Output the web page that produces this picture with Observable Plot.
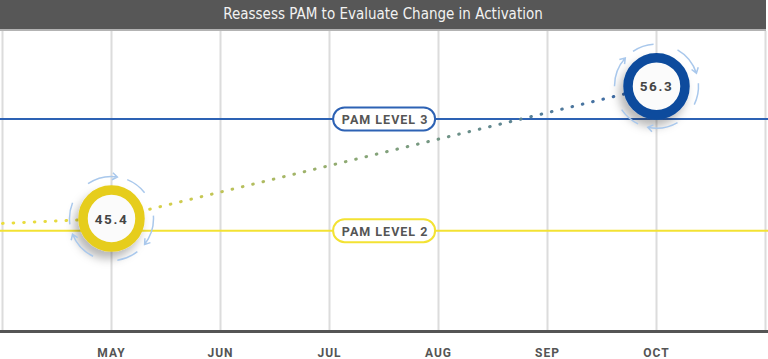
<!DOCTYPE html>
<html>
<head>
<meta charset="utf-8">
<script src="https://cdn.jsdelivr.net/npm/d3@7"></script>
<script src="https://cdn.jsdelivr.net/npm/@observablehq/plot@0.6"></script>
<style>
  body { margin: 0; background: #fff; }
  #wrap { width: 768px; height: 359px; overflow: hidden; position: relative; }
  #title {
    width: 766px; height: 29px; line-height: 29px; background: #575757;
    border-bottom: 2px solid #b3b3b3;
    color: #f2f2f2; text-align: center;
    font-family: "Liberation Sans Narrow", "DejaVu Sans Condensed", "Noto Sans", sans-serif;
    font-size: 15px; font-weight: 400;
  }
</style>
</head>
<body>
<div id="wrap">
  <div id="title">Reassess PAM to Evaluate Change in Activation</div>
  <div id="chart"></div>
</div>
<script>
// ---- data ----
const months = ["APR", "MAY", "JUN", "JUL", "AUG", "SEP", "OCT", "NOV"];
const tickMonths = ["MAY", "JUN", "JUL", "AUG", "SEP", "OCT"];
const scoreMonths = ["APR", "MAY", "OCT"];
const scores = [45.0, 45.4, 56.3];
const markerMonths = ["MAY", "OCT"];
const markerScores = [45.4, 56.3];
const markerLabels = ["45.4", "56.3"];
const levelNames = ["PAM LEVEL 2", "PAM LEVEL 3"];
const levelValues = [44.4, 53.6];
const levelLabelMonth = "JUL";
const yDomain = [36.1, 60.8];

// ---- styles ----
const yellow = "#f3e233";
const yellowRing = "#e6cd1b";
const blue = "#2d62b4";
const blueRing = "#0b4b9d";
const levelColors = [yellow, blue];
const ringColors = [yellowRing, blueRing];

const scoreData = scoreMonths.map((m, i) => ({month: m, value: scores[i]}));
const markerData = markerMonths.map((m, i) => ({month: m, value: markerScores[i], label: markerLabels[i], color: ringColors[i]}));
const levelData = levelNames.map((n, i) => ({name: n, value: levelValues[i], month: levelLabelMonth, color: levelColors[i]}));

const xRange = [1.5, 766];
const halfStep = (xRange[1] - xRange[0]) / (months.length - 1) / 2;

// custom symbols
const pill = {
  draw(ctx) {
    const w = 102, h = 23, r = h / 2;
    ctx.moveTo(-w / 2 + r, -h / 2);
    ctx.lineTo(w / 2 - r, -h / 2);
    ctx.arc(w / 2 - r, 0, r, -Math.PI / 2, Math.PI / 2);
    ctx.lineTo(-w / 2 + r, h / 2);
    ctx.arc(-w / 2 + r, 0, r, Math.PI / 2, 3 * Math.PI / 2);
    ctx.closePath();
  }
};
function arcsSymbol(rot) {
  return {
    draw(ctx) {
      const R = 42, rad = Math.PI / 180;
      const segs = [[236, 278, true], [292, 322, false]];
      for (let k = 0; k < 3; k++) {
        for (const [s, e, arrow] of segs) {
          const a0 = (s + k * 120 + rot) * rad, a1 = (e + k * 120 + rot) * rad;
          ctx.moveTo(R * Math.cos(a0), R * Math.sin(a0));
          ctx.arc(0, 0, R, a0, a1);
          if (arrow) {
            const px = R * Math.cos(a1), py = R * Math.sin(a1);
            const tx = -Math.sin(a1), ty = Math.cos(a1);
            const nx = Math.cos(a1), ny = Math.sin(a1);
            ctx.moveTo(px - 5 * tx + 3.5 * nx, py - 5 * ty + 3.5 * ny);
            ctx.lineTo(px, py);
            ctx.lineTo(px - 5 * tx - 3.5 * nx, py - 5 * ty - 3.5 * ny);
          }
        }
      }
    }
  };
}

const chart = Plot.plot({
  width: 768,
  height: 328,
  marginTop: 0,
  marginBottom: 28,
  marginLeft: 0,
  marginRight: 0,
  style: {fontFamily: "Roboto, 'DejaVu Sans', sans-serif", background: "transparent", overflow: "visible"},
  x: {
    type: "point", domain: months, range: xRange, padding: 0,
    label: null, tickSize: 0, tickPadding: 17,
    tickFormat: d => tickMonths.includes(d) ? d : ""
  },
  y: {domain: yDomain, axis: null},
  marks: [
    Plot.ruleX(months, {x: d => d, stroke: "#dcdcdc", strokeWidth: 2}),
    Plot.ruleY(levelData, {y: "value", stroke: "color", strokeWidth: 2}),
    Plot.line(scoreData, {x: "month", y: "value", stroke: "#888888", strokeWidth: 3,
      strokeDasharray: "0.6 10", strokeLinecap: "round"}),
    Plot.dot(levelData, {x: "month", y: "value", dx: halfStep, symbol: pill, fill: "white", stroke: "color", strokeWidth: 2}),
    Plot.text(levelData, {x: "month", y: "value", dx: halfStep + 1, dy: 1, text: "name", fill: "#555", fontSize: 12.5, fontWeight: 700}),
    Plot.ruleY([yDomain[0]], {stroke: "#555", strokeWidth: 3}),
    Plot.dot(markerData, {x: "month", y: "value", r: 28.5, stroke: "color", strokeWidth: 9.5, fill: "#fbfbfb"}),
    Plot.dot(markerData.filter(d => d.month === "MAY"), {x: "month", y: "value", symbol: arcsSymbol(0), stroke: "#a9c8ec", strokeWidth: 1.5, fill: "none"}),
    Plot.dot(markerData.filter(d => d.month === "OCT"), {x: "month", y: "value", symbol: arcsSymbol(64), stroke: "#a9c8ec", strokeWidth: 1.5, fill: "none"}),
    Plot.text(markerData, {x: "month", y: "value", dy: 1, text: "label", fill: "#454545", fontSize: 13.5, fontWeight: 700})
  ]
});

const svg = d3.select(chart);
svg.selectAll("[aria-label^='x-axis']").attr("font-weight", 700).attr("font-size", 12).attr("fill", "#555");
svg.selectAll("[aria-label^='x-axis'] text").style("letter-spacing", "1px");
const textGroups = svg.selectAll("g[aria-label='text']").nodes();
d3.select(textGroups[0]).selectAll("text").style("letter-spacing", "1px");
d3.select(textGroups[1]).selectAll("text").style("letter-spacing", "1.6px");

const xs = chart.scale("x");
const x0 = xs.apply(scoreMonths[0]);
const x1 = xs.apply(markerMonths[1]);
const defs = svg.insert("defs", ":first-child");
const g = defs.append("linearGradient").attr("id", "dotgrad").attr("gradientUnits", "userSpaceOnUse")
  .attr("x1", x0).attr("x2", x1).attr("y1", 0).attr("y2", 0);
g.append("stop").attr("offset", "0").attr("stop-color", "#eadd3c");
g.append("stop").attr("offset", "0.2").attr("stop-color", "#e0d544");
g.append("stop").attr("offset", "0.55").attr("stop-color", "#88a676");
g.append("stop").attr("offset", "1").attr("stop-color", "#3363ad");
svg.selectAll("g[aria-label='line'], g[aria-label='line'] path").attr("stroke", "url(#dotgrad)");

const f = defs.append("filter").attr("id", "shadow").attr("x", "-60%").attr("y", "-60%").attr("width", "220%").attr("height", "220%");
f.append("feDropShadow").attr("dx", -4).attr("dy", 7).attr("stdDeviation", 5)
  .attr("flood-color", "#000").attr("flood-opacity", 0.28);
const dotGroups = svg.selectAll("g[aria-label='dot']").nodes();
d3.select(dotGroups[1]).selectAll("circle, path").attr("filter", "url(#shadow)");

document.getElementById("chart").appendChild(chart);
</script>
</body>
</html>
